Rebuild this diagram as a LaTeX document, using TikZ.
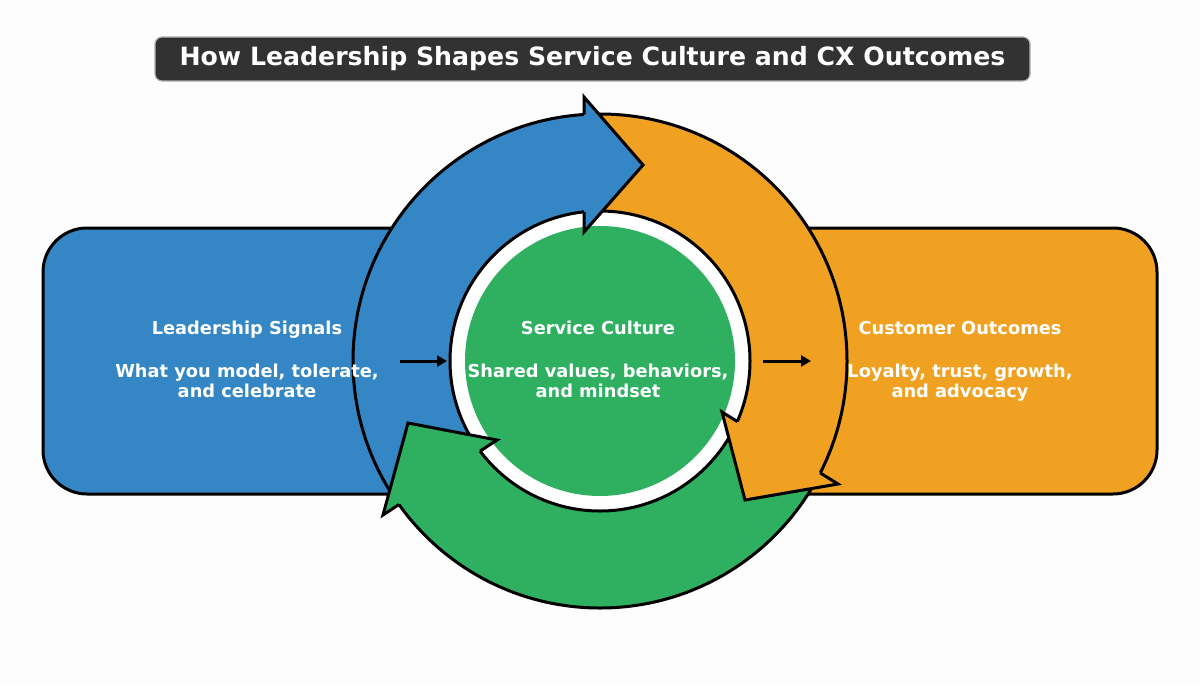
\documentclass[tikz,border=0pt]{standalone}
\usepackage{fontspec}
\setmainfont{DejaVu Sans}
\usetikzlibrary{arrows.meta}
\definecolor{cblue}{HTML}{3486C4}
\definecolor{corange}{HTML}{F0A121}
\definecolor{cgreen}{HTML}{2EB060}
\definecolor{ctitle}{HTML}{323232}
\definecolor{bgc}{HTML}{FDFDFD}
\begin{document}
\begin{tikzpicture}[x=0.5pt,y=-0.5pt,
  outline/.style={draw=black, line width=1.5pt},
  panel/.style={outline, rounded corners=22pt},
  lbl/.style={text=white, font=\fontsize{8.9}{10}\selectfont\bfseries, align=center, inner sep=0pt, anchor=north},
  flow/.style={-{Triangle[length=5pt,width=5.5pt]}, line width=1.5pt},
  headfill/.style={fill=#1},
  headline/.style={outline, line join=miter}
]
\fill[bgc] (0,0) rectangle (1200,686);
\useasboundingbox (0,0) rectangle (1200,686);

\node[fill=ctitle, draw=gray!60, line width=0.6pt, rounded corners=3.5pt,
      minimum width=437.5pt, minimum height=22pt, inner sep=0pt, text=white,
      font=\fontsize{12.6}{14}\selectfont\bfseries] (title) at (592.5,59)
      {How Leadership Shapes Service Culture and CX Outcomes};

% side panels
\draw[panel, fill=cblue] (500,228) -- (43,228) -- (43,494) -- (500,494);
\draw[panel, fill=corange] (700,228) -- (1157,228) -- (1157,494) -- (700,494);

% ring
\begin{scope}[shift={(300pt,-180.5pt)}, x=0.5pt, y=0.5pt]
  \fill[cblue] (92:247) arc[start angle=92,end angle=213.5,radius=247]
     -- (213.5:150) arc[start angle=213.5,end angle=92,radius=150] -- cycle;
  \fill[cgreen] (213.5:247) arc[start angle=213.5,end angle=331.5,radius=247]
     -- (331.5:150) arc[start angle=331.5,end angle=213.5,radius=150] -- cycle;
  \fill[corange] (-28.5:247) arc[start angle=-28.5,end angle=92,radius=247]
     -- (92:150) arc[start angle=92,end angle=-28.5,radius=150] -- cycle;
  \fill[white] (0,0) circle[radius=150];
  \node[circle, fill=cgreen, minimum size=135pt, inner sep=0pt] (core) at (0,0) {};
  \draw[outline] (0,0) circle[radius=247];
  \draw[outline] (0,0) circle[radius=150];
  % blue head
  \fill[headfill=cblue] (-16,149.1) -- (-16,129) -- (43,196) -- (-16,264) -- (-16,246.5) -- cycle;
  \draw[headline] (-16,149.1) -- (-16,129) -- (43,196) -- (-16,264) -- (-16,246.5);
  % orange head
  \fill[headfill=corange] (137.3,-60.5) -- (122,-51) -- (145,-139) -- (238,-123) -- (220.2,-111.9) -- cycle;
  \draw[headline] (137.3,-60.5) -- (122,-51) -- (145,-139) -- (238,-123) -- (220.2,-111.9);
  % green head
  \fill[headfill=cgreen] (-119.9,-90.1) -- (-103,-79) -- (-192,-62) -- (-217,-154) -- (-201.1,-143.5) -- cycle;
  \draw[headline] (-119.9,-90.1) -- (-103,-79) -- (-192,-62) -- (-217,-154) -- (-201.1,-143.5);
\end{scope}

% texts
\node[lbl] (lead) at (247,320.5) {Leadership Signals\\[11.5pt]What you model, tolerate,\\and celebrate};
\node[lbl] (cult) at (598,320.5) {Service Culture\\[11.5pt]Shared values, behaviors,\\and mindset};
\node[lbl] (cust) at (960,320.5) {Customer Outcomes\\[11.5pt]Loyalty, trust, growth,\\and advocacy};

% small connectors
\coordinate (inL) at (400,361);
\coordinate (inR) at (447,361);
\coordinate (outL) at (763,361);
\coordinate (outR) at (811,361);
\draw[flow] (inL) -- (inR);
\draw[flow] (outL) -- (outR);
\end{tikzpicture}
\end{document}
